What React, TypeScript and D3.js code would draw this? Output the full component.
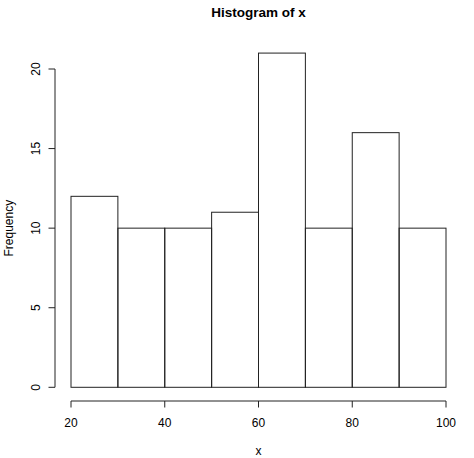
import React from "react";
import * as d3 from "d3";

const breaks = [20, 30, 40, 50, 60, 70, 80, 90, 100];
const counts = [12, 10, 10, 11, 21, 10, 16, 10];
const xTicks = [20, 40, 60, 80, 100];
const yTicks = [0, 5, 10, 15, 20];
const title = "Histogram of x";
const xLabel = "x";
const yLabel = "Frequency";

export default function App() {
  const W = 474, H = 458;
  const x = d3.scaleLinear().domain([20, 100]).range([71, 446]);
  const y = d3.scaleLinear().domain([0, 20]).range([387.3, 69]);
  const stroke = "#222";
  const font = "'Liberation Sans', Arial, sans-serif";
  const axisY = 401;
  const axisX = 55;
  return (
    <svg width={W} height={H} style={{ position: "absolute", left: 0, top: 0, background: "#fff" }} fontFamily={font}>
      <text x={258.5} y={17} textAnchor="middle" fontSize={13.5} fontWeight="bold" fill="#000">{title}</text>
      {counts.map((c, i) => (
        <rect key={i} x={x(breaks[i])} y={y(c)} width={x(breaks[i + 1]) - x(breaks[i])} height={y(0) - y(c)}
          fill="none" stroke={stroke} strokeWidth={1} />
      ))}
      {/* x axis */}
      <line x1={x(xTicks[0])} x2={x(xTicks[xTicks.length - 1])} y1={axisY} y2={axisY} stroke={stroke} />
      {xTicks.map((t) => (
        <g key={t}>
          <line x1={x(t)} x2={x(t)} y1={axisY} y2={axisY + 6.5} stroke={stroke} />
          <text x={x(t)} y={427} textAnchor="middle" fontSize={12} fill="#000">{t}</text>
        </g>
      ))}
      <text x={258.5} y={455} textAnchor="middle" fontSize={12} fill="#000">{xLabel}</text>
      {/* y axis */}
      <line x1={axisX} x2={axisX} y1={y(yTicks[0])} y2={y(yTicks[yTicks.length - 1])} stroke={stroke} />
      {yTicks.map((t) => (
        <g key={t}>
          <line x1={axisX - 6.5} x2={axisX} y1={y(t)} y2={y(t)} stroke={stroke} />
          <text transform={`translate(39.5,${y(t)}) rotate(-90)`} textAnchor="middle" fontSize={12} fill="#000">{t}</text>
        </g>
      ))}
      <text transform={`translate(12.5,${(y(0) + y(20)) / 2}) rotate(-90)`} textAnchor="middle" fontSize={12} fill="#000">{yLabel}</text>
    </svg>
  );
}
